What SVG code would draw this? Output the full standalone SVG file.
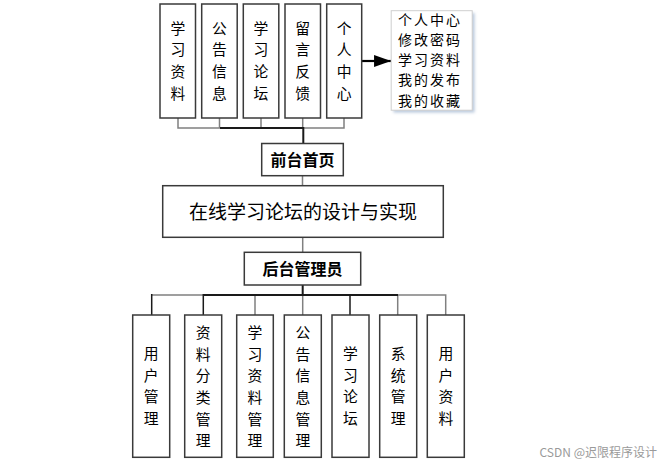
<svg xmlns="http://www.w3.org/2000/svg" width="666" height="465" viewBox="0 0 666 465">
<defs>
<style>
.box{fill:#fff;stroke:#3a3a3a;stroke-width:1.5}
.t{font-family:"Noto Sans CJK SC","Noto Sans",sans-serif;font-size:16px;fill:#000;text-anchor:middle}
.v{font-size:14.8px}
.b{font-weight:bold}
.m{font-family:"Noto Sans CJK SC","Noto Sans",sans-serif;font-size:14px;letter-spacing:2px;fill:#000}
.g{stroke:#808080;stroke-width:1.5;fill:none}
.k{stroke:#1a1a1a;stroke-width:2;fill:none}
</style>
<marker id="arr" viewBox="0 0 10 7" refX="10" refY="3.5" markerWidth="7.7" markerHeight="5.4" orient="auto" markerUnits="strokeWidth">
<path d="M0,0L10,3.5L0,7z" fill="#000"/>
</marker>
<filter id="sh" x="-20%" y="-20%" width="140%" height="140%">
<feGaussianBlur stdDeviation="1.5"/>
</filter>
</defs>
<rect width="666" height="465" fill="#fff"/>

<g id="connectors">
<path class="g" d="M178,118V128H220M303,128H344V118M219.5,118V128M261,118V128M302.7,118V128"/>
<path class="k" d="M220,128H303.3M303.3,127V143.5"/>
<path class="g" d="M302.5,176V186M302.7,237V252"/>
<path class="g" d="M151.7,295H203M398,295H445.7V315M255,295V315M302.7,295V315M397.7,295V315"/>
<path class="k" d="M203,295H398M302.7,285V295"/>
<path class="k" style="stroke-width:1.5" d="M151.7,294V315M203.3,294V315M350,294V315"/>
<path d="M362,61H391" stroke="#000" stroke-width="2.2" fill="none" marker-end="url(#arr)"/>
</g>

<g id="top-xuexiziliao">
<rect class="box" x="160" y="4" width="35.5" height="114"/>
<text class="t v"><tspan x="178" y="33.6">学</tspan><tspan x="178" y="55.3">习</tspan><tspan x="178" y="77">资</tspan><tspan x="178" y="98.6">料</tspan></text>
</g>
<g id="top-gonggaoxinxi">
<rect class="box" x="201.7" y="4" width="35.5" height="114"/>
<text class="t v"><tspan x="219.5" y="33.6">公</tspan><tspan x="219.5" y="55.3">告</tspan><tspan x="219.5" y="77">信</tspan><tspan x="219.5" y="98.6">息</tspan></text>
</g>
<g id="top-xuexiluntan">
<rect class="box" x="243.3" y="4" width="35.5" height="114"/>
<text class="t v"><tspan x="261" y="33.6">学</tspan><tspan x="261" y="55.3">习</tspan><tspan x="261" y="77">论</tspan><tspan x="261" y="98.6">坛</tspan></text>
</g>
<g id="top-liuyanfankui">
<rect class="box" x="285" y="4" width="35.5" height="114"/>
<text class="t v"><tspan x="302.7" y="33.6">留</tspan><tspan x="302.7" y="55.3">言</tspan><tspan x="302.7" y="77">反</tspan><tspan x="302.7" y="98.6">馈</tspan></text>
</g>
<g id="top-gerenzhongxin">
<rect class="box" x="326.7" y="4" width="35" height="114"/>
<text class="t v"><tspan x="344.2" y="33.6">个</tspan><tspan x="344.2" y="55.3">人</tspan><tspan x="344.2" y="77">中</tspan><tspan x="344.2" y="98.6">心</tspan></text>
</g>

<g id="personal-menu">
<rect x="393.5" y="13" width="81" height="99.5" fill="#b8c8dc" filter="url(#sh)"/>
<rect x="391.2" y="10.7" width="81" height="99.5" fill="#fff" stroke="#cfcfcf" stroke-width="1"/>
<text class="m"><tspan x="398" y="25.3">个人中心</tspan><tspan x="398" y="45.3">修改密码</tspan><tspan x="398" y="65.3">学习资料</tspan><tspan x="398" y="85.3">我的发布</tspan><tspan x="398" y="105.8">我的收藏</tspan></text>
</g>

<g id="qiantai">
<rect class="box" x="261.7" y="143.5" width="81.6" height="32.2"/>
<text class="t b" x="302.5" y="165.7">前台首页</text>
</g>

<g id="title">
<rect class="box" x="162.7" y="185.7" width="280.6" height="51.6"/>
<text class="t" style="font-size:19px" x="303" y="219">在线学习论坛的设计与实现</text>
</g>

<g id="houtai">
<rect class="box" x="244.3" y="252.3" width="116.4" height="32.7"/>
<text class="t b" x="302.5" y="275">后台管理员</text>
</g>

<g id="b-yonghuguanli">
<rect class="box" x="132.7" y="315" width="37" height="142.3"/>
<text class="t v"><tspan x="151.2" y="358.9">用</tspan><tspan x="151.2" y="380.6">户</tspan><tspan x="151.2" y="402.3">管</tspan><tspan x="151.2" y="423.9">理</tspan></text>
</g>
<g id="b-ziliaofenlei">
<rect class="box" x="184.7" y="315" width="37" height="142.3"/>
<text class="t v"><tspan x="203.2" y="337.9">资</tspan><tspan x="203.2" y="359.6">料</tspan><tspan x="203.2" y="381.3">分</tspan><tspan x="203.2" y="402.9">类</tspan><tspan x="203.2" y="424.6">管</tspan><tspan x="203.2" y="446.3">理</tspan></text>
</g>
<g id="b-xuexiziliao">
<rect class="box" x="236.7" y="315" width="36.6" height="142.3"/>
<text class="t v"><tspan x="255" y="337.9">学</tspan><tspan x="255" y="359.6">习</tspan><tspan x="255" y="381.3">资</tspan><tspan x="255" y="402.9">料</tspan><tspan x="255" y="424.6">管</tspan><tspan x="255" y="446.3">理</tspan></text>
</g>
<g id="b-gonggao">
<rect class="box" x="284.3" y="315" width="37" height="142.3"/>
<text class="t v"><tspan x="302.8" y="337.9">公</tspan><tspan x="302.8" y="359.6">告</tspan><tspan x="302.8" y="381.3">信</tspan><tspan x="302.8" y="402.9">息</tspan><tspan x="302.8" y="424.6">管</tspan><tspan x="302.8" y="446.3">理</tspan></text>
</g>
<g id="b-luntan">
<rect class="box" x="332" y="315" width="37" height="142.3"/>
<text class="t v"><tspan x="350.5" y="358.9">学</tspan><tspan x="350.5" y="380.6">习</tspan><tspan x="350.5" y="402.3">论</tspan><tspan x="350.5" y="423.9">坛</tspan></text>
</g>
<g id="b-xitong">
<rect class="box" x="379.7" y="315" width="37" height="142.3"/>
<text class="t v"><tspan x="398.2" y="358.9">系</tspan><tspan x="398.2" y="380.6">统</tspan><tspan x="398.2" y="402.3">管</tspan><tspan x="398.2" y="423.9">理</tspan></text>
</g>
<g id="b-yonghuziliao">
<rect class="box" x="427.3" y="315" width="37" height="142.3"/>
<text class="t v"><tspan x="445.8" y="358.9">用</tspan><tspan x="445.8" y="380.6">户</tspan><tspan x="445.8" y="402.3">资</tspan><tspan x="445.8" y="423.9">料</tspan></text>
</g>

<text x="657" y="457" style="font-family:'Noto Sans CJK SC','Noto Sans',sans-serif;font-size:12px;fill:#9a9a9a;text-anchor:end">CSDN @迟限程序设计</text>
</svg>
